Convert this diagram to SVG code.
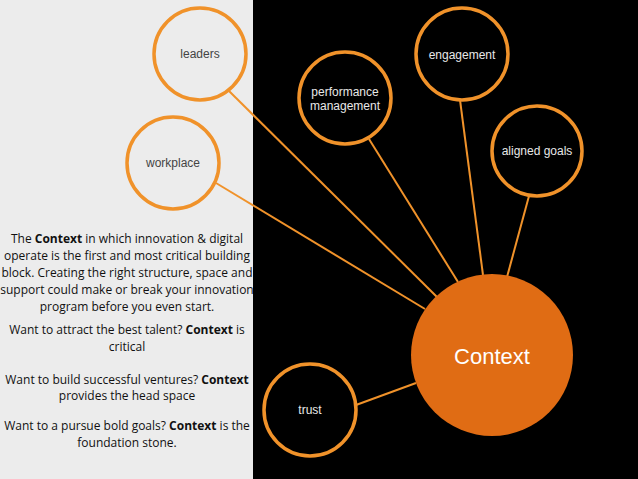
<svg xmlns="http://www.w3.org/2000/svg" width="638" height="479" viewBox="0 0 638 479">
<style>
.n{fill:#000;stroke:#f0922a;stroke-width:3.5}
.l{fill:#ececec;stroke:#f0922a;stroke-width:3.5}
.c line{stroke:#f0922a;stroke-width:2}
.t{font-family:"Liberation Sans",Arial,sans-serif;font-size:12px;text-anchor:middle}
.w{fill:#e8e8e8}
.d{fill:#444}
.p{font-family:"Open Sans","Liberation Sans",sans-serif;font-size:12px;text-anchor:middle;fill:#111}
</style>
<rect width="638" height="479" fill="#000"/>
<rect width="253" height="479" fill="#ececec"/>
<g id="connectors" class="c">
<line x1="229" y1="91" x2="437" y2="297"/>
<line x1="216" y1="183" x2="425" y2="309"/>
<line x1="369" y1="139" x2="458" y2="282"/>
<line x1="460" y1="100" x2="483" y2="275"/>
<line x1="529" y1="196" x2="507" y2="277"/>
<line x1="356" y1="405" x2="416" y2="383"/>
</g>
<g id="leaders"><circle class="l" cx="200" cy="54" r="46"/><text class="t d" x="200" y="58">leaders</text></g>
<g id="workplace"><circle class="l" cx="173" cy="163" r="46"/><text class="t d" x="173" y="167">workplace</text></g>
<g id="performance"><circle class="n" cx="345" cy="98" r="46"/><text class="t w" x="345" y="96">performance</text><text class="t w" x="345" y="110">management</text></g>
<g id="engagement"><circle class="n" cx="462" cy="54" r="46"/><text class="t w" x="462" y="59">engagement</text></g>
<g id="aligned"><circle class="n" cx="537" cy="151" r="45"/><text class="t w" x="537" y="155">aligned goals</text></g>
<g id="trust"><circle class="n" cx="310" cy="410" r="46"/><text class="t w" x="310" y="414">trust</text></g>
<g id="context"><circle cx="492" cy="355" r="81" fill="#e06c14"/><text x="492" y="364" font-family="'Liberation Sans',Arial,sans-serif" font-size="22" fill="#fff" text-anchor="middle">Context</text></g>
<g id="description">
<text class="p" x="127" y="243">The <tspan font-weight="bold">Context</tspan> in which innovation &amp; digital</text>
<text class="p" x="127" y="260">operate is the first and most critical building</text>
<text class="p" x="127" y="277">block. Creating the right structure, space and</text>
<text class="p" x="127" y="294">support could make or break your innovation</text>
<text class="p" x="127" y="311">program before you even start.</text>
<text class="p" x="127" y="334">Want to attract the best talent? <tspan font-weight="bold">Context</tspan> is</text>
<text class="p" x="127" y="351">critical</text>
<text class="p" x="127" y="384">Want to build successful ventures? <tspan font-weight="bold">Context</tspan></text>
<text class="p" x="127" y="400">provides the head space</text>
<text class="p" x="127" y="430">Want to a pursue bold goals? <tspan font-weight="bold">Context</tspan> is the</text>
<text class="p" x="127" y="447">foundation stone.</text>
</g>
</svg>
